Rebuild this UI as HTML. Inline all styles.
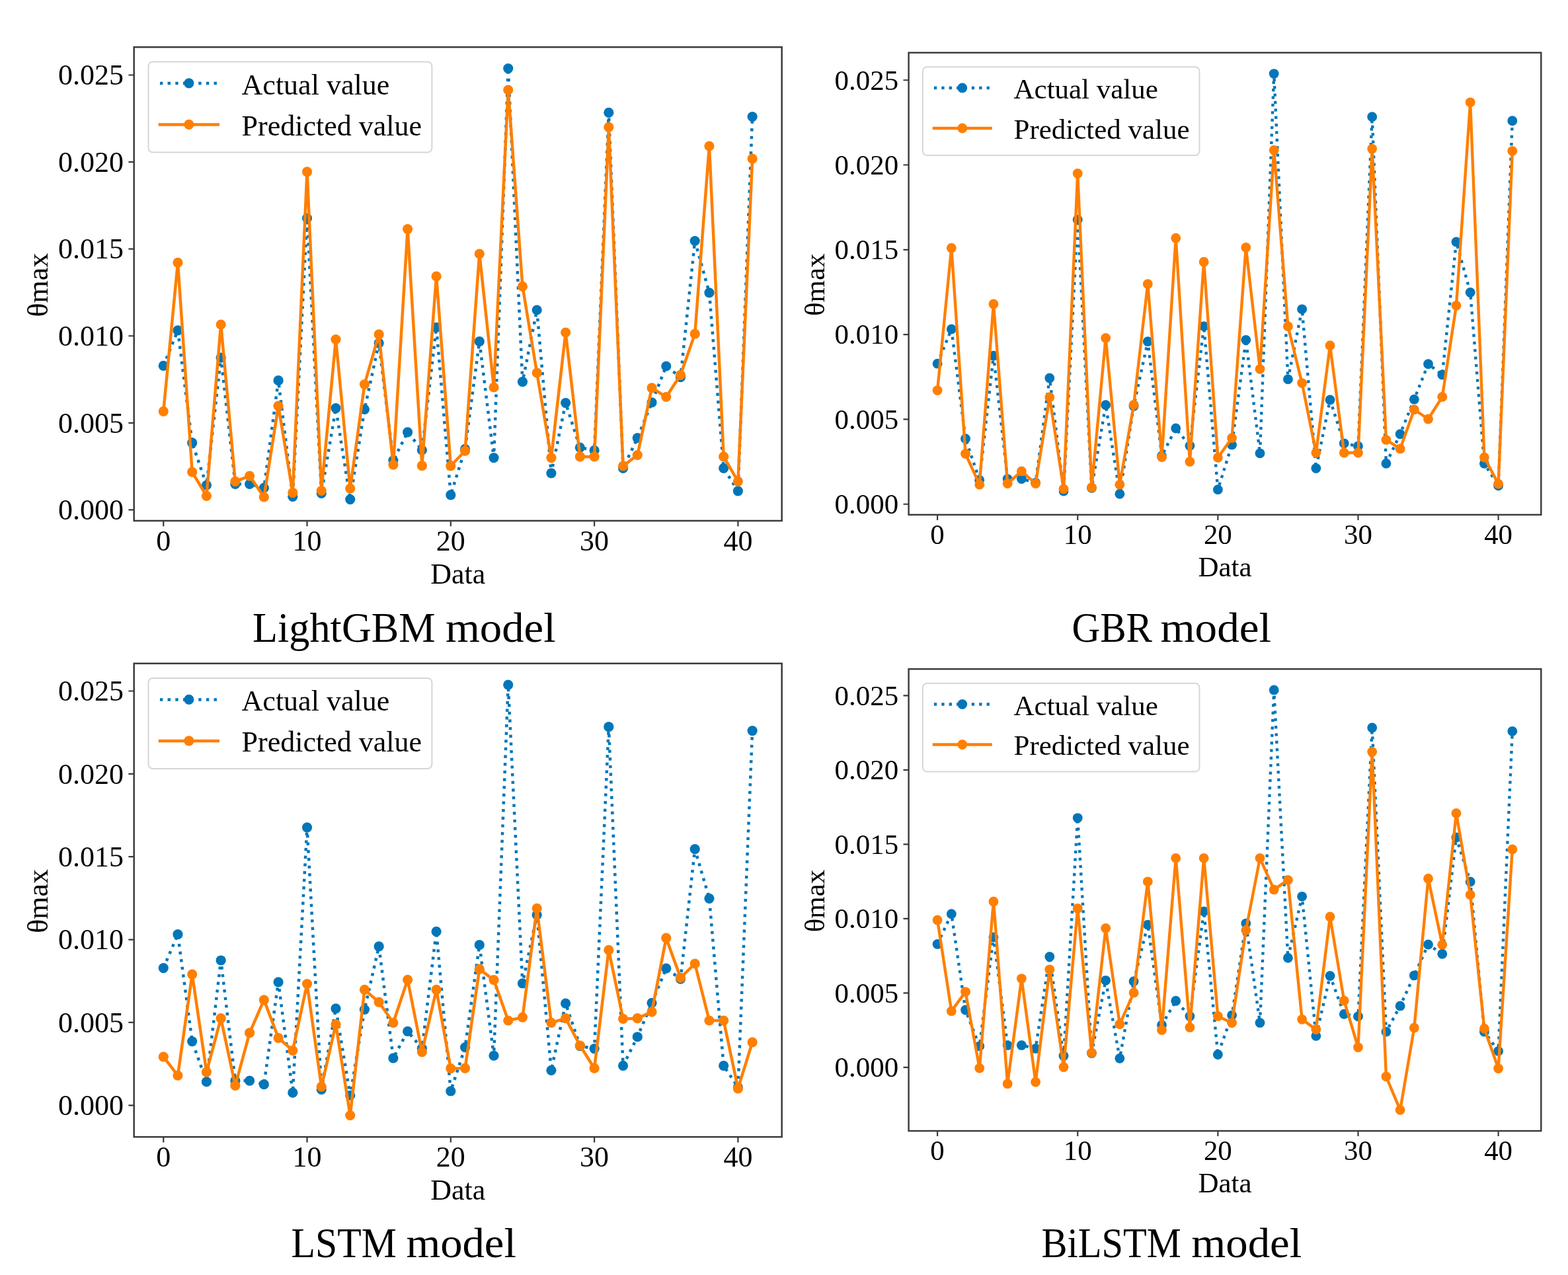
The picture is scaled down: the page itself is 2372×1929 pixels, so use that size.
<!DOCTYPE html>
<html><head><meta charset="utf-8"><title>Model comparison</title>
<style>html,body{margin:0;padding:0;background:#fff;}svg{display:block;}</style></head>
<body><svg width="2372" height="1929" viewBox="0 0 2372 1929">
<rect width="2372" height="1929" fill="#fff"/>
<clipPath id="clip0"><rect x="202.7" y="71.3" width="980" height="716.6"/></clipPath>
<g clip-path="url(#clip0)">
<path d="M247.25 553.4 L268.98 499.9 L290.71 669.9 L312.44 734 L334.17 541.2 L355.89 732.3 L377.62 732.3 L399.35 738.2 L421.08 575.7 L442.81 751.3 L464.54 330.1 L486.27 746.4 L508 617.6 L529.73 755.6 L551.46 619.3 L573.18 519.1 L594.91 696.5 L616.64 653.8 L638.37 681 L660.1 495.4 L681.83 748.8 L703.56 679.3 L725.29 516.7 L747.02 692.6 L768.75 103.6 L790.48 577.7 L812.2 469 L833.93 715.8 L855.66 609.6 L877.39 677.2 L899.12 681.4 L920.85 170.4 L942.58 708.4 L964.31 662.7 L986.04 608.8 L1007.76 554 L1029.49 570.7 L1051.22 364.5 L1072.95 442.9 L1094.68 708.4 L1116.41 742.8 L1138.14 176.6" fill="none" stroke="#0076b9" stroke-width="4.5" stroke-dasharray="4.4 7.26" stroke-linecap="butt" stroke-linejoin="round"/>
<g fill="#0076b9"><circle cx="247.25" cy="553.4" r="7.6"/><circle cx="268.98" cy="499.9" r="7.6"/><circle cx="290.71" cy="669.9" r="7.6"/><circle cx="312.44" cy="734" r="7.6"/><circle cx="334.17" cy="541.2" r="7.6"/><circle cx="355.89" cy="732.3" r="7.6"/><circle cx="377.62" cy="732.3" r="7.6"/><circle cx="399.35" cy="738.2" r="7.6"/><circle cx="421.08" cy="575.7" r="7.6"/><circle cx="442.81" cy="751.3" r="7.6"/><circle cx="464.54" cy="330.1" r="7.6"/><circle cx="486.27" cy="746.4" r="7.6"/><circle cx="508" cy="617.6" r="7.6"/><circle cx="529.73" cy="755.6" r="7.6"/><circle cx="551.46" cy="619.3" r="7.6"/><circle cx="573.18" cy="519.1" r="7.6"/><circle cx="594.91" cy="696.5" r="7.6"/><circle cx="616.64" cy="653.8" r="7.6"/><circle cx="638.37" cy="681" r="7.6"/><circle cx="660.1" cy="495.4" r="7.6"/><circle cx="681.83" cy="748.8" r="7.6"/><circle cx="703.56" cy="679.3" r="7.6"/><circle cx="725.29" cy="516.7" r="7.6"/><circle cx="747.02" cy="692.6" r="7.6"/><circle cx="768.75" cy="103.6" r="7.6"/><circle cx="790.48" cy="577.7" r="7.6"/><circle cx="812.2" cy="469" r="7.6"/><circle cx="833.93" cy="715.8" r="7.6"/><circle cx="855.66" cy="609.6" r="7.6"/><circle cx="877.39" cy="677.2" r="7.6"/><circle cx="899.12" cy="681.4" r="7.6"/><circle cx="920.85" cy="170.4" r="7.6"/><circle cx="942.58" cy="708.4" r="7.6"/><circle cx="964.31" cy="662.7" r="7.6"/><circle cx="986.04" cy="608.8" r="7.6"/><circle cx="1007.76" cy="554" r="7.6"/><circle cx="1029.49" cy="570.7" r="7.6"/><circle cx="1051.22" cy="364.5" r="7.6"/><circle cx="1072.95" cy="442.9" r="7.6"/><circle cx="1094.68" cy="708.4" r="7.6"/><circle cx="1116.41" cy="742.8" r="7.6"/><circle cx="1138.14" cy="176.6" r="7.6"/></g>
<path d="M247.25 622.3 L268.98 397.4 L290.71 714.2 L312.44 750.3 L334.17 491 L355.89 728.4 L377.62 720.1 L399.35 752 L421.08 614.1 L442.81 745.4 L464.54 259.9 L486.27 742.5 L508 513.5 L529.73 739.2 L551.46 581.5 L573.18 505.9 L594.91 703.1 L616.64 346.6 L638.37 704.7 L660.1 418.2 L681.83 704.8 L703.56 682.2 L725.29 384 L747.02 586 L768.75 136 L790.48 433.4 L812.2 564 L833.93 692.6 L855.66 503 L877.39 690.9 L899.12 690.9 L920.85 192.4 L942.58 705 L964.31 688.5 L986.04 586.8 L1007.76 600.5 L1029.49 567.3 L1051.22 505.1 L1072.95 221 L1094.68 690.9 L1116.41 728.3 L1138.14 240.1" fill="none" stroke="#ff7f00" stroke-width="4.5" stroke-linecap="square" stroke-linejoin="round"/>
<g fill="#ff7f00"><circle cx="247.25" cy="622.3" r="7.6"/><circle cx="268.98" cy="397.4" r="7.6"/><circle cx="290.71" cy="714.2" r="7.6"/><circle cx="312.44" cy="750.3" r="7.6"/><circle cx="334.17" cy="491" r="7.6"/><circle cx="355.89" cy="728.4" r="7.6"/><circle cx="377.62" cy="720.1" r="7.6"/><circle cx="399.35" cy="752" r="7.6"/><circle cx="421.08" cy="614.1" r="7.6"/><circle cx="442.81" cy="745.4" r="7.6"/><circle cx="464.54" cy="259.9" r="7.6"/><circle cx="486.27" cy="742.5" r="7.6"/><circle cx="508" cy="513.5" r="7.6"/><circle cx="529.73" cy="739.2" r="7.6"/><circle cx="551.46" cy="581.5" r="7.6"/><circle cx="573.18" cy="505.9" r="7.6"/><circle cx="594.91" cy="703.1" r="7.6"/><circle cx="616.64" cy="346.6" r="7.6"/><circle cx="638.37" cy="704.7" r="7.6"/><circle cx="660.1" cy="418.2" r="7.6"/><circle cx="681.83" cy="704.8" r="7.6"/><circle cx="703.56" cy="682.2" r="7.6"/><circle cx="725.29" cy="384" r="7.6"/><circle cx="747.02" cy="586" r="7.6"/><circle cx="768.75" cy="136" r="7.6"/><circle cx="790.48" cy="433.4" r="7.6"/><circle cx="812.2" cy="564" r="7.6"/><circle cx="833.93" cy="692.6" r="7.6"/><circle cx="855.66" cy="503" r="7.6"/><circle cx="877.39" cy="690.9" r="7.6"/><circle cx="899.12" cy="690.9" r="7.6"/><circle cx="920.85" cy="192.4" r="7.6"/><circle cx="942.58" cy="705" r="7.6"/><circle cx="964.31" cy="688.5" r="7.6"/><circle cx="986.04" cy="586.8" r="7.6"/><circle cx="1007.76" cy="600.5" r="7.6"/><circle cx="1029.49" cy="567.3" r="7.6"/><circle cx="1051.22" cy="505.1" r="7.6"/><circle cx="1072.95" cy="221" r="7.6"/><circle cx="1094.68" cy="690.9" r="7.6"/><circle cx="1116.41" cy="728.3" r="7.6"/><circle cx="1138.14" cy="240.1" r="7.6"/></g>
</g>
<rect x="202.7" y="71.3" width="980" height="716.6" fill="none" stroke="#3a3a3a" stroke-width="2.5" stroke-linejoin="miter"/>
<path d="M194.4 771.4 H202.7 M194.4 639.82 H202.7 M194.4 508.24 H202.7 M194.4 376.66 H202.7 M194.4 245.08 H202.7 M194.4 113.5 H202.7 M247.25 787.9 V796.2 M464.54 787.9 V796.2 M681.83 787.9 V796.2 M899.12 787.9 V796.2 M1116.41 787.9 V796.2" stroke="#3a3a3a" stroke-width="2.2" fill="none"/>
<g font-family="'Liberation Serif','Times New Roman',serif" font-size="44" fill="#000"><text x="186.9" y="786.1" text-anchor="end">0.000</text><text x="186.9" y="654.52" text-anchor="end">0.005</text><text x="186.9" y="522.94" text-anchor="end">0.010</text><text x="186.9" y="391.36" text-anchor="end">0.015</text><text x="186.9" y="259.78" text-anchor="end">0.020</text><text x="186.9" y="128.2" text-anchor="end">0.025</text><text x="247.25" y="833.2" text-anchor="middle">0</text><text x="464.54" y="833.2" text-anchor="middle">10</text><text x="681.83" y="833.2" text-anchor="middle">20</text><text x="899.12" y="833.2" text-anchor="middle">30</text><text x="1116.41" y="833.2" text-anchor="middle">40</text><text x="692.7" y="883.2" text-anchor="middle">Data</text><text transform="translate(71.9 431.1) rotate(-90)" x="0" y="0" text-anchor="middle">θmax</text></g>
<rect x="224.5" y="93.4" width="428.9" height="137" rx="6.6" fill="#fff" fill-opacity="0.8" stroke="#d6d6d6" stroke-width="2"/>
<path d="M241.95 125.9 H329.75" stroke="#0076b9" stroke-width="4.5" stroke-dasharray="4.4 7.26" fill="none"/>
<circle cx="285.85" cy="125.9" r="7.6" fill="#0076b9"/>
<path d="M241.95 188.4 H329.75" stroke="#ff7f00" stroke-width="4.5" stroke-linecap="square" fill="none"/>
<circle cx="285.85" cy="188.4" r="7.6" fill="#ff7f00"/>
<g font-family="'Liberation Serif','Times New Roman',serif" font-size="44" fill="#000"><text x="365.6" y="142.5">Actual value</text><text x="365.6" y="204.5">Predicted value</text></g>
<g font-family="'Liberation Serif','Times New Roman',serif" font-size="62.6" fill="#000"><text x="382.01" y="970.7" textLength="276.72" lengthAdjust="spacingAndGlyphs">LightGBM</text><text x="673.9" y="970.7" textLength="166.84" lengthAdjust="spacingAndGlyphs">model</text></g>
<clipPath id="clip1"><rect x="1374.6" y="79.7" width="956.7" height="699.1"/></clipPath>
<g clip-path="url(#clip1)">
<path d="M1418.1 550.13 L1439.31 497.97 L1460.53 663.73 L1481.74 726.23 L1502.95 538.24 L1524.16 724.57 L1545.38 724.57 L1566.59 730.33 L1587.8 571.88 L1609.02 743.1 L1630.23 332.4 L1651.44 738.32 L1672.66 612.73 L1693.87 747.29 L1715.08 614.39 L1736.29 516.69 L1757.51 689.67 L1778.72 648.03 L1799.93 674.55 L1821.15 493.58 L1842.36 740.66 L1863.57 672.9 L1884.79 514.35 L1906 685.86 L1927.21 111.55 L1948.42 573.83 L1969.64 467.84 L1990.85 708.49 L2012.06 604.93 L2033.28 670.85 L2054.49 674.94 L2075.7 176.68 L2096.92 701.27 L2118.13 656.71 L2139.34 604.15 L2160.55 550.72 L2181.77 567 L2202.98 365.94 L2224.19 442.39 L2245.41 701.27 L2266.62 734.81 L2287.83 182.73" fill="none" stroke="#0076b9" stroke-width="4.39" stroke-dasharray="4.29 7.09" stroke-linecap="butt" stroke-linejoin="round"/>
<g fill="#0076b9"><circle cx="1418.1" cy="550.13" r="7.42"/><circle cx="1439.31" cy="497.97" r="7.42"/><circle cx="1460.53" cy="663.73" r="7.42"/><circle cx="1481.74" cy="726.23" r="7.42"/><circle cx="1502.95" cy="538.24" r="7.42"/><circle cx="1524.16" cy="724.57" r="7.42"/><circle cx="1545.38" cy="724.57" r="7.42"/><circle cx="1566.59" cy="730.33" r="7.42"/><circle cx="1587.8" cy="571.88" r="7.42"/><circle cx="1609.02" cy="743.1" r="7.42"/><circle cx="1630.23" cy="332.4" r="7.42"/><circle cx="1651.44" cy="738.32" r="7.42"/><circle cx="1672.66" cy="612.73" r="7.42"/><circle cx="1693.87" cy="747.29" r="7.42"/><circle cx="1715.08" cy="614.39" r="7.42"/><circle cx="1736.29" cy="516.69" r="7.42"/><circle cx="1757.51" cy="689.67" r="7.42"/><circle cx="1778.72" cy="648.03" r="7.42"/><circle cx="1799.93" cy="674.55" r="7.42"/><circle cx="1821.15" cy="493.58" r="7.42"/><circle cx="1842.36" cy="740.66" r="7.42"/><circle cx="1863.57" cy="672.9" r="7.42"/><circle cx="1884.79" cy="514.35" r="7.42"/><circle cx="1906" cy="685.86" r="7.42"/><circle cx="1927.21" cy="111.55" r="7.42"/><circle cx="1948.42" cy="573.83" r="7.42"/><circle cx="1969.64" cy="467.84" r="7.42"/><circle cx="1990.85" cy="708.49" r="7.42"/><circle cx="2012.06" cy="604.93" r="7.42"/><circle cx="2033.28" cy="670.85" r="7.42"/><circle cx="2054.49" cy="674.94" r="7.42"/><circle cx="2075.7" cy="176.68" r="7.42"/><circle cx="2096.92" cy="701.27" r="7.42"/><circle cx="2118.13" cy="656.71" r="7.42"/><circle cx="2139.34" cy="604.15" r="7.42"/><circle cx="2160.55" cy="550.72" r="7.42"/><circle cx="2181.77" cy="567" r="7.42"/><circle cx="2202.98" cy="365.94" r="7.42"/><circle cx="2224.19" cy="442.39" r="7.42"/><circle cx="2245.41" cy="701.27" r="7.42"/><circle cx="2266.62" cy="734.81" r="7.42"/><circle cx="2287.83" cy="182.73" r="7.42"/></g>
<path d="M1418.1 590.6 L1439.31 375.2 L1460.53 686.5 L1481.74 733.2 L1502.95 460 L1524.16 731.6 L1545.38 712.9 L1566.59 731.6 L1587.8 601 L1609.02 739.7 L1630.23 262.5 L1651.44 737.4 L1672.66 511.5 L1693.87 733.2 L1715.08 612.5 L1736.29 429.7 L1757.51 691.5 L1778.72 360.2 L1799.93 698.4 L1821.15 396.2 L1842.36 692.3 L1863.57 662.7 L1884.79 374.4 L1906 558.3 L1927.21 227.2 L1948.42 493.7 L1969.64 579.6 L1990.85 685 L2012.06 522.7 L2033.28 685 L2054.49 685 L2075.7 225.1 L2096.92 665.4 L2118.13 678.9 L2139.34 619.7 L2160.55 634 L2181.77 600.4 L2202.98 462.3 L2224.19 154.8 L2245.41 692 L2266.62 732.1 L2287.83 228.4" fill="none" stroke="#ff7f00" stroke-width="4.39" stroke-linecap="square" stroke-linejoin="round"/>
<g fill="#ff7f00"><circle cx="1418.1" cy="590.6" r="7.42"/><circle cx="1439.31" cy="375.2" r="7.42"/><circle cx="1460.53" cy="686.5" r="7.42"/><circle cx="1481.74" cy="733.2" r="7.42"/><circle cx="1502.95" cy="460" r="7.42"/><circle cx="1524.16" cy="731.6" r="7.42"/><circle cx="1545.38" cy="712.9" r="7.42"/><circle cx="1566.59" cy="731.6" r="7.42"/><circle cx="1587.8" cy="601" r="7.42"/><circle cx="1609.02" cy="739.7" r="7.42"/><circle cx="1630.23" cy="262.5" r="7.42"/><circle cx="1651.44" cy="737.4" r="7.42"/><circle cx="1672.66" cy="511.5" r="7.42"/><circle cx="1693.87" cy="733.2" r="7.42"/><circle cx="1715.08" cy="612.5" r="7.42"/><circle cx="1736.29" cy="429.7" r="7.42"/><circle cx="1757.51" cy="691.5" r="7.42"/><circle cx="1778.72" cy="360.2" r="7.42"/><circle cx="1799.93" cy="698.4" r="7.42"/><circle cx="1821.15" cy="396.2" r="7.42"/><circle cx="1842.36" cy="692.3" r="7.42"/><circle cx="1863.57" cy="662.7" r="7.42"/><circle cx="1884.79" cy="374.4" r="7.42"/><circle cx="1906" cy="558.3" r="7.42"/><circle cx="1927.21" cy="227.2" r="7.42"/><circle cx="1948.42" cy="493.7" r="7.42"/><circle cx="1969.64" cy="579.6" r="7.42"/><circle cx="1990.85" cy="685" r="7.42"/><circle cx="2012.06" cy="522.7" r="7.42"/><circle cx="2033.28" cy="685" r="7.42"/><circle cx="2054.49" cy="685" r="7.42"/><circle cx="2075.7" cy="225.1" r="7.42"/><circle cx="2096.92" cy="665.4" r="7.42"/><circle cx="2118.13" cy="678.9" r="7.42"/><circle cx="2139.34" cy="619.7" r="7.42"/><circle cx="2160.55" cy="634" r="7.42"/><circle cx="2181.77" cy="600.4" r="7.42"/><circle cx="2202.98" cy="462.3" r="7.42"/><circle cx="2224.19" cy="154.8" r="7.42"/><circle cx="2245.41" cy="692" r="7.42"/><circle cx="2266.62" cy="732.1" r="7.42"/><circle cx="2287.83" cy="228.4" r="7.42"/></g>
</g>
<rect x="1374.6" y="79.7" width="956.7" height="699.1" fill="none" stroke="#3a3a3a" stroke-width="2.44" stroke-linejoin="miter"/>
<path d="M1366.5 762.7 H1374.6 M1366.5 634.4 H1374.6 M1366.5 506.1 H1374.6 M1366.5 377.8 H1374.6 M1366.5 249.5 H1374.6 M1366.5 121.2 H1374.6 M1418.1 778.8 V786.9 M1630.23 778.8 V786.9 M1842.36 778.8 V786.9 M2054.49 778.8 V786.9 M2266.62 778.8 V786.9" stroke="#3a3a3a" stroke-width="2.15" fill="none"/>
<g font-family="'Liberation Serif','Times New Roman',serif" font-size="42.94" fill="#000"><text x="1359.18" y="777.05" text-anchor="end">0.000</text><text x="1359.18" y="648.75" text-anchor="end">0.005</text><text x="1359.18" y="520.45" text-anchor="end">0.010</text><text x="1359.18" y="392.15" text-anchor="end">0.015</text><text x="1359.18" y="263.85" text-anchor="end">0.020</text><text x="1359.18" y="135.55" text-anchor="end">0.025</text><text x="1418.1" y="823.01" text-anchor="middle">0</text><text x="1630.23" y="823.01" text-anchor="middle">10</text><text x="1842.36" y="823.01" text-anchor="middle">20</text><text x="2054.49" y="823.01" text-anchor="middle">30</text><text x="2266.62" y="823.01" text-anchor="middle">40</text><text x="1852.95" y="871.81" text-anchor="middle">Data</text><text transform="translate(1246.94 430.71) rotate(-90)" x="0" y="0" text-anchor="middle">θmax</text></g>
<rect x="1395.88" y="101.27" width="418.61" height="133.71" rx="6.44" fill="#fff" fill-opacity="0.8" stroke="#d6d6d6" stroke-width="1.95"/>
<path d="M1412.91 132.99 H1498.6" stroke="#0076b9" stroke-width="4.39" stroke-dasharray="4.29 7.09" fill="none"/>
<circle cx="1455.75" cy="132.99" r="7.42" fill="#0076b9"/>
<path d="M1412.91 193.99 H1498.6" stroke="#ff7f00" stroke-width="4.39" stroke-linecap="square" fill="none"/>
<circle cx="1455.75" cy="193.99" r="7.42" fill="#ff7f00"/>
<g font-family="'Liberation Serif','Times New Roman',serif" font-size="42.94" fill="#000"><text x="1533.59" y="149.19">Actual value</text><text x="1533.59" y="209.7">Predicted value</text></g>
<g font-family="'Liberation Serif','Times New Roman',serif" font-size="62.6" fill="#000"><text x="1621.48" y="970.9" textLength="121.51" lengthAdjust="spacingAndGlyphs">GBR</text><text x="1755.49" y="970.9" textLength="167.55" lengthAdjust="spacingAndGlyphs">model</text></g>
<clipPath id="clip2"><rect x="202.7" y="1003.8" width="980" height="716.3"/></clipPath>
<g clip-path="url(#clip2)">
<path d="M247.25 1464.61 L268.98 1413.63 L290.71 1575.6 L312.44 1636.67 L334.17 1452.98 L355.89 1635.05 L377.62 1635.05 L399.35 1640.67 L421.08 1485.85 L442.81 1653.15 L464.54 1251.86 L486.27 1648.48 L508 1525.77 L529.73 1657.25 L551.46 1527.39 L573.18 1431.93 L594.91 1600.94 L616.64 1560.26 L638.37 1586.17 L660.1 1409.35 L681.83 1650.77 L703.56 1584.55 L725.29 1429.64 L747.02 1597.23 L768.75 1036.07 L790.48 1487.76 L812.2 1384.19 L833.93 1619.33 L855.66 1518.15 L877.39 1582.55 L899.12 1586.55 L920.85 1099.71 L942.58 1612.28 L964.31 1568.74 L986.04 1517.39 L1007.76 1465.18 L1029.49 1481.09 L1051.22 1284.63 L1072.95 1359.33 L1094.68 1612.28 L1116.41 1645.05 L1138.14 1105.62" fill="none" stroke="#0076b9" stroke-width="4.5" stroke-dasharray="4.4 7.26" stroke-linecap="butt" stroke-linejoin="round"/>
<g fill="#0076b9"><circle cx="247.25" cy="1464.61" r="7.6"/><circle cx="268.98" cy="1413.63" r="7.6"/><circle cx="290.71" cy="1575.6" r="7.6"/><circle cx="312.44" cy="1636.67" r="7.6"/><circle cx="334.17" cy="1452.98" r="7.6"/><circle cx="355.89" cy="1635.05" r="7.6"/><circle cx="377.62" cy="1635.05" r="7.6"/><circle cx="399.35" cy="1640.67" r="7.6"/><circle cx="421.08" cy="1485.85" r="7.6"/><circle cx="442.81" cy="1653.15" r="7.6"/><circle cx="464.54" cy="1251.86" r="7.6"/><circle cx="486.27" cy="1648.48" r="7.6"/><circle cx="508" cy="1525.77" r="7.6"/><circle cx="529.73" cy="1657.25" r="7.6"/><circle cx="551.46" cy="1527.39" r="7.6"/><circle cx="573.18" cy="1431.93" r="7.6"/><circle cx="594.91" cy="1600.94" r="7.6"/><circle cx="616.64" cy="1560.26" r="7.6"/><circle cx="638.37" cy="1586.17" r="7.6"/><circle cx="660.1" cy="1409.35" r="7.6"/><circle cx="681.83" cy="1650.77" r="7.6"/><circle cx="703.56" cy="1584.55" r="7.6"/><circle cx="725.29" cy="1429.64" r="7.6"/><circle cx="747.02" cy="1597.23" r="7.6"/><circle cx="768.75" cy="1036.07" r="7.6"/><circle cx="790.48" cy="1487.76" r="7.6"/><circle cx="812.2" cy="1384.19" r="7.6"/><circle cx="833.93" cy="1619.33" r="7.6"/><circle cx="855.66" cy="1518.15" r="7.6"/><circle cx="877.39" cy="1582.55" r="7.6"/><circle cx="899.12" cy="1586.55" r="7.6"/><circle cx="920.85" cy="1099.71" r="7.6"/><circle cx="942.58" cy="1612.28" r="7.6"/><circle cx="964.31" cy="1568.74" r="7.6"/><circle cx="986.04" cy="1517.39" r="7.6"/><circle cx="1007.76" cy="1465.18" r="7.6"/><circle cx="1029.49" cy="1481.09" r="7.6"/><circle cx="1051.22" cy="1284.63" r="7.6"/><circle cx="1072.95" cy="1359.33" r="7.6"/><circle cx="1094.68" cy="1612.28" r="7.6"/><circle cx="1116.41" cy="1645.05" r="7.6"/><circle cx="1138.14" cy="1105.62" r="7.6"/></g>
<path d="M247.25 1598.8 L268.98 1627.1 L290.71 1474.1 L312.44 1621.8 L334.17 1540.7 L355.89 1642.5 L377.62 1562.7 L399.35 1512.8 L421.08 1570.3 L442.81 1589.3 L464.54 1488.5 L486.27 1644.2 L508 1549.9 L529.73 1687.5 L551.46 1497.4 L573.18 1516.1 L594.91 1547.3 L616.64 1482.3 L638.37 1591.6 L660.1 1497.4 L681.83 1616.5 L703.56 1616.2 L725.29 1466.2 L747.02 1482.6 L768.75 1544 L790.48 1539.1 L812.2 1374.3 L833.93 1547.3 L855.66 1540.7 L877.39 1581.8 L899.12 1616.2 L920.85 1437.3 L942.58 1541.4 L964.31 1540.7 L986.04 1530.9 L1007.76 1419.2 L1029.49 1479.3 L1051.22 1458 L1072.95 1544 L1094.68 1544 L1116.41 1646.8 L1138.14 1576.8" fill="none" stroke="#ff7f00" stroke-width="4.5" stroke-linecap="square" stroke-linejoin="round"/>
<g fill="#ff7f00"><circle cx="247.25" cy="1598.8" r="7.6"/><circle cx="268.98" cy="1627.1" r="7.6"/><circle cx="290.71" cy="1474.1" r="7.6"/><circle cx="312.44" cy="1621.8" r="7.6"/><circle cx="334.17" cy="1540.7" r="7.6"/><circle cx="355.89" cy="1642.5" r="7.6"/><circle cx="377.62" cy="1562.7" r="7.6"/><circle cx="399.35" cy="1512.8" r="7.6"/><circle cx="421.08" cy="1570.3" r="7.6"/><circle cx="442.81" cy="1589.3" r="7.6"/><circle cx="464.54" cy="1488.5" r="7.6"/><circle cx="486.27" cy="1644.2" r="7.6"/><circle cx="508" cy="1549.9" r="7.6"/><circle cx="529.73" cy="1687.5" r="7.6"/><circle cx="551.46" cy="1497.4" r="7.6"/><circle cx="573.18" cy="1516.1" r="7.6"/><circle cx="594.91" cy="1547.3" r="7.6"/><circle cx="616.64" cy="1482.3" r="7.6"/><circle cx="638.37" cy="1591.6" r="7.6"/><circle cx="660.1" cy="1497.4" r="7.6"/><circle cx="681.83" cy="1616.5" r="7.6"/><circle cx="703.56" cy="1616.2" r="7.6"/><circle cx="725.29" cy="1466.2" r="7.6"/><circle cx="747.02" cy="1482.6" r="7.6"/><circle cx="768.75" cy="1544" r="7.6"/><circle cx="790.48" cy="1539.1" r="7.6"/><circle cx="812.2" cy="1374.3" r="7.6"/><circle cx="833.93" cy="1547.3" r="7.6"/><circle cx="855.66" cy="1540.7" r="7.6"/><circle cx="877.39" cy="1581.8" r="7.6"/><circle cx="899.12" cy="1616.2" r="7.6"/><circle cx="920.85" cy="1437.3" r="7.6"/><circle cx="942.58" cy="1541.4" r="7.6"/><circle cx="964.31" cy="1540.7" r="7.6"/><circle cx="986.04" cy="1530.9" r="7.6"/><circle cx="1007.76" cy="1419.2" r="7.6"/><circle cx="1029.49" cy="1479.3" r="7.6"/><circle cx="1051.22" cy="1458" r="7.6"/><circle cx="1072.95" cy="1544" r="7.6"/><circle cx="1094.68" cy="1544" r="7.6"/><circle cx="1116.41" cy="1646.8" r="7.6"/><circle cx="1138.14" cy="1576.8" r="7.6"/></g>
</g>
<rect x="202.7" y="1003.8" width="980" height="716.3" fill="none" stroke="#3a3a3a" stroke-width="2.5" stroke-linejoin="miter"/>
<path d="M194.4 1672.3 H202.7 M194.4 1546.94 H202.7 M194.4 1421.58 H202.7 M194.4 1296.22 H202.7 M194.4 1170.86 H202.7 M194.4 1045.5 H202.7 M247.25 1720.1 V1728.4 M464.54 1720.1 V1728.4 M681.83 1720.1 V1728.4 M899.12 1720.1 V1728.4 M1116.41 1720.1 V1728.4" stroke="#3a3a3a" stroke-width="2.2" fill="none"/>
<g font-family="'Liberation Serif','Times New Roman',serif" font-size="44" fill="#000"><text x="186.9" y="1687" text-anchor="end">0.000</text><text x="186.9" y="1561.64" text-anchor="end">0.005</text><text x="186.9" y="1436.28" text-anchor="end">0.010</text><text x="186.9" y="1310.92" text-anchor="end">0.015</text><text x="186.9" y="1185.56" text-anchor="end">0.020</text><text x="186.9" y="1060.2" text-anchor="end">0.025</text><text x="247.25" y="1765.4" text-anchor="middle">0</text><text x="464.54" y="1765.4" text-anchor="middle">10</text><text x="681.83" y="1765.4" text-anchor="middle">20</text><text x="899.12" y="1765.4" text-anchor="middle">30</text><text x="1116.41" y="1765.4" text-anchor="middle">40</text><text x="692.7" y="1815.4" text-anchor="middle">Data</text><text transform="translate(71.9 1363.45) rotate(-90)" x="0" y="0" text-anchor="middle">θmax</text></g>
<rect x="224.5" y="1025.9" width="428.9" height="137" rx="6.6" fill="#fff" fill-opacity="0.8" stroke="#d6d6d6" stroke-width="2"/>
<path d="M241.95 1058.4 H329.75" stroke="#0076b9" stroke-width="4.5" stroke-dasharray="4.4 7.26" fill="none"/>
<circle cx="285.85" cy="1058.4" r="7.6" fill="#0076b9"/>
<path d="M241.95 1120.9 H329.75" stroke="#ff7f00" stroke-width="4.5" stroke-linecap="square" fill="none"/>
<circle cx="285.85" cy="1120.9" r="7.6" fill="#ff7f00"/>
<g font-family="'Liberation Serif','Times New Roman',serif" font-size="44" fill="#000"><text x="365.6" y="1075">Actual value</text><text x="365.6" y="1137">Predicted value</text></g>
<g font-family="'Liberation Serif','Times New Roman',serif" font-size="62.6" fill="#000"><text x="440.48" y="1902.1" textLength="159.27" lengthAdjust="spacingAndGlyphs">LSTM</text><text x="614.4" y="1902.1" textLength="166.53" lengthAdjust="spacingAndGlyphs">model</text></g>
<clipPath id="clip3"><rect x="1374.6" y="1012.2" width="956.7" height="698.8"/></clipPath>
<g clip-path="url(#clip3)">
<path d="M1418.1 1428.44 L1439.31 1382.71 L1460.53 1528.03 L1481.74 1582.83 L1502.95 1418.02 L1524.16 1581.38 L1545.38 1581.38 L1566.59 1586.42 L1587.8 1447.51 L1609.02 1597.62 L1630.23 1237.56 L1651.44 1593.43 L1672.66 1483.33 L1693.87 1601.29 L1715.08 1484.78 L1736.29 1399.12 L1757.51 1550.77 L1778.72 1514.27 L1799.93 1537.52 L1821.15 1378.86 L1842.36 1595.48 L1863.57 1536.07 L1884.79 1397.07 L1906 1547.44 L1927.21 1043.94 L1948.42 1449.22 L1969.64 1356.3 L1990.85 1567.27 L2012.06 1476.49 L2033.28 1534.27 L2054.49 1537.86 L2075.7 1101.04 L2096.92 1560.95 L2118.13 1521.88 L2139.34 1475.8 L2160.55 1428.96 L2181.77 1443.23 L2202.98 1266.97 L2224.19 1333.98 L2245.41 1560.95 L2266.62 1590.35 L2287.83 1106.34" fill="none" stroke="#0076b9" stroke-width="4.39" stroke-dasharray="4.29 7.09" stroke-linecap="butt" stroke-linejoin="round"/>
<g fill="#0076b9"><circle cx="1418.1" cy="1428.44" r="7.42"/><circle cx="1439.31" cy="1382.71" r="7.42"/><circle cx="1460.53" cy="1528.03" r="7.42"/><circle cx="1481.74" cy="1582.83" r="7.42"/><circle cx="1502.95" cy="1418.02" r="7.42"/><circle cx="1524.16" cy="1581.38" r="7.42"/><circle cx="1545.38" cy="1581.38" r="7.42"/><circle cx="1566.59" cy="1586.42" r="7.42"/><circle cx="1587.8" cy="1447.51" r="7.42"/><circle cx="1609.02" cy="1597.62" r="7.42"/><circle cx="1630.23" cy="1237.56" r="7.42"/><circle cx="1651.44" cy="1593.43" r="7.42"/><circle cx="1672.66" cy="1483.33" r="7.42"/><circle cx="1693.87" cy="1601.29" r="7.42"/><circle cx="1715.08" cy="1484.78" r="7.42"/><circle cx="1736.29" cy="1399.12" r="7.42"/><circle cx="1757.51" cy="1550.77" r="7.42"/><circle cx="1778.72" cy="1514.27" r="7.42"/><circle cx="1799.93" cy="1537.52" r="7.42"/><circle cx="1821.15" cy="1378.86" r="7.42"/><circle cx="1842.36" cy="1595.48" r="7.42"/><circle cx="1863.57" cy="1536.07" r="7.42"/><circle cx="1884.79" cy="1397.07" r="7.42"/><circle cx="1906" cy="1547.44" r="7.42"/><circle cx="1927.21" cy="1043.94" r="7.42"/><circle cx="1948.42" cy="1449.22" r="7.42"/><circle cx="1969.64" cy="1356.3" r="7.42"/><circle cx="1990.85" cy="1567.27" r="7.42"/><circle cx="2012.06" cy="1476.49" r="7.42"/><circle cx="2033.28" cy="1534.27" r="7.42"/><circle cx="2054.49" cy="1537.86" r="7.42"/><circle cx="2075.7" cy="1101.04" r="7.42"/><circle cx="2096.92" cy="1560.95" r="7.42"/><circle cx="2118.13" cy="1521.88" r="7.42"/><circle cx="2139.34" cy="1475.8" r="7.42"/><circle cx="2160.55" cy="1428.96" r="7.42"/><circle cx="2181.77" cy="1443.23" r="7.42"/><circle cx="2202.98" cy="1266.97" r="7.42"/><circle cx="2224.19" cy="1333.98" r="7.42"/><circle cx="2245.41" cy="1560.95" r="7.42"/><circle cx="2266.62" cy="1590.35" r="7.42"/><circle cx="2287.83" cy="1106.34" r="7.42"/></g>
<path d="M1418.1 1391.9 L1439.31 1529.7 L1460.53 1500.6 L1481.74 1616.1 L1502.95 1363.9 L1524.16 1639.7 L1545.38 1480.6 L1566.59 1637.1 L1587.8 1466.8 L1609.02 1614.5 L1630.23 1374.5 L1651.44 1592.8 L1672.66 1404.4 L1693.87 1549.5 L1715.08 1501.9 L1736.29 1333.8 L1757.51 1558.4 L1778.72 1298.3 L1799.93 1554.4 L1821.15 1298.3 L1842.36 1537.4 L1863.57 1547.5 L1884.79 1407.2 L1906 1298.3 L1927.21 1345.9 L1948.42 1331.4 L1969.64 1542.3 L1990.85 1557.6 L2012.06 1387 L2033.28 1514 L2054.49 1584.6 L2075.7 1137.4 L2096.92 1628.8 L2118.13 1679.3 L2139.34 1555 L2160.55 1329.2 L2181.77 1429.2 L2202.98 1230.5 L2224.19 1353.8 L2245.41 1556.2 L2266.62 1616.6 L2287.83 1284.9" fill="none" stroke="#ff7f00" stroke-width="4.39" stroke-linecap="square" stroke-linejoin="round"/>
<g fill="#ff7f00"><circle cx="1418.1" cy="1391.9" r="7.42"/><circle cx="1439.31" cy="1529.7" r="7.42"/><circle cx="1460.53" cy="1500.6" r="7.42"/><circle cx="1481.74" cy="1616.1" r="7.42"/><circle cx="1502.95" cy="1363.9" r="7.42"/><circle cx="1524.16" cy="1639.7" r="7.42"/><circle cx="1545.38" cy="1480.6" r="7.42"/><circle cx="1566.59" cy="1637.1" r="7.42"/><circle cx="1587.8" cy="1466.8" r="7.42"/><circle cx="1609.02" cy="1614.5" r="7.42"/><circle cx="1630.23" cy="1374.5" r="7.42"/><circle cx="1651.44" cy="1592.8" r="7.42"/><circle cx="1672.66" cy="1404.4" r="7.42"/><circle cx="1693.87" cy="1549.5" r="7.42"/><circle cx="1715.08" cy="1501.9" r="7.42"/><circle cx="1736.29" cy="1333.8" r="7.42"/><circle cx="1757.51" cy="1558.4" r="7.42"/><circle cx="1778.72" cy="1298.3" r="7.42"/><circle cx="1799.93" cy="1554.4" r="7.42"/><circle cx="1821.15" cy="1298.3" r="7.42"/><circle cx="1842.36" cy="1537.4" r="7.42"/><circle cx="1863.57" cy="1547.5" r="7.42"/><circle cx="1884.79" cy="1407.2" r="7.42"/><circle cx="1906" cy="1298.3" r="7.42"/><circle cx="1927.21" cy="1345.9" r="7.42"/><circle cx="1948.42" cy="1331.4" r="7.42"/><circle cx="1969.64" cy="1542.3" r="7.42"/><circle cx="1990.85" cy="1557.6" r="7.42"/><circle cx="2012.06" cy="1387" r="7.42"/><circle cx="2033.28" cy="1514" r="7.42"/><circle cx="2054.49" cy="1584.6" r="7.42"/><circle cx="2075.7" cy="1137.4" r="7.42"/><circle cx="2096.92" cy="1628.8" r="7.42"/><circle cx="2118.13" cy="1679.3" r="7.42"/><circle cx="2139.34" cy="1555" r="7.42"/><circle cx="2160.55" cy="1329.2" r="7.42"/><circle cx="2181.77" cy="1429.2" r="7.42"/><circle cx="2202.98" cy="1230.5" r="7.42"/><circle cx="2224.19" cy="1353.8" r="7.42"/><circle cx="2245.41" cy="1556.2" r="7.42"/><circle cx="2266.62" cy="1616.6" r="7.42"/><circle cx="2287.83" cy="1284.9" r="7.42"/></g>
</g>
<rect x="1374.6" y="1012.2" width="956.7" height="698.8" fill="none" stroke="#3a3a3a" stroke-width="2.44" stroke-linejoin="miter"/>
<path d="M1366.5 1614.8 H1374.6 M1366.5 1502.32 H1374.6 M1366.5 1389.84 H1374.6 M1366.5 1277.36 H1374.6 M1366.5 1164.88 H1374.6 M1366.5 1052.4 H1374.6 M1418.1 1711 V1719.1 M1630.23 1711 V1719.1 M1842.36 1711 V1719.1 M2054.49 1711 V1719.1 M2266.62 1711 V1719.1" stroke="#3a3a3a" stroke-width="2.15" fill="none"/>
<g font-family="'Liberation Serif','Times New Roman',serif" font-size="42.94" fill="#000"><text x="1359.18" y="1629.15" text-anchor="end">0.000</text><text x="1359.18" y="1516.67" text-anchor="end">0.005</text><text x="1359.18" y="1404.19" text-anchor="end">0.010</text><text x="1359.18" y="1291.71" text-anchor="end">0.015</text><text x="1359.18" y="1179.23" text-anchor="end">0.020</text><text x="1359.18" y="1066.75" text-anchor="end">0.025</text><text x="1418.1" y="1755.21" text-anchor="middle">0</text><text x="1630.23" y="1755.21" text-anchor="middle">10</text><text x="1842.36" y="1755.21" text-anchor="middle">20</text><text x="2054.49" y="1755.21" text-anchor="middle">30</text><text x="2266.62" y="1755.21" text-anchor="middle">40</text><text x="1852.95" y="1804.01" text-anchor="middle">Data</text><text transform="translate(1246.94 1363.06) rotate(-90)" x="0" y="0" text-anchor="middle">θmax</text></g>
<rect x="1395.88" y="1033.77" width="418.61" height="133.71" rx="6.44" fill="#fff" fill-opacity="0.8" stroke="#d6d6d6" stroke-width="1.95"/>
<path d="M1412.91 1065.49 H1498.6" stroke="#0076b9" stroke-width="4.39" stroke-dasharray="4.29 7.09" fill="none"/>
<circle cx="1455.75" cy="1065.49" r="7.42" fill="#0076b9"/>
<path d="M1412.91 1126.49 H1498.6" stroke="#ff7f00" stroke-width="4.39" stroke-linecap="square" fill="none"/>
<circle cx="1455.75" cy="1126.49" r="7.42" fill="#ff7f00"/>
<g font-family="'Liberation Serif','Times New Roman',serif" font-size="42.94" fill="#000"><text x="1533.59" y="1081.69">Actual value</text><text x="1533.59" y="1142.2">Predicted value</text></g>
<g font-family="'Liberation Serif','Times New Roman',serif" font-size="62.6" fill="#000"><text x="1575.41" y="1901.9" textLength="211.3" lengthAdjust="spacingAndGlyphs">BiLSTM</text><text x="1802.3" y="1901.9" textLength="166.94" lengthAdjust="spacingAndGlyphs">model</text></g>
</svg></body></html>
